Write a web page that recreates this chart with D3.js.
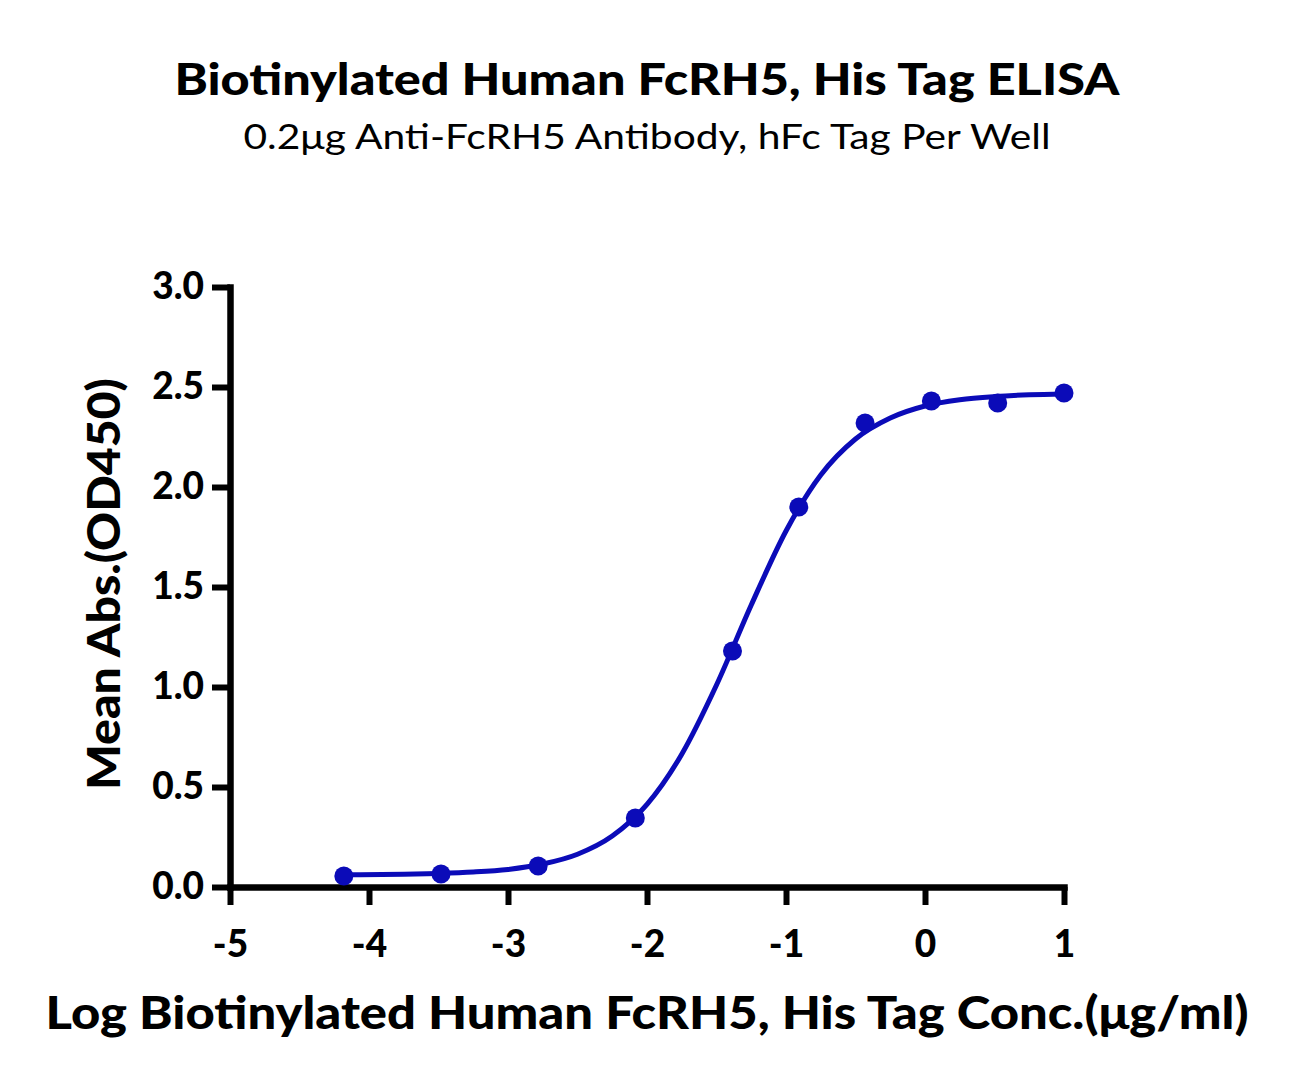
<!DOCTYPE html>
<html>
<head>
<meta charset="utf-8">
<script src="https://cdn.jsdelivr.net/npm/d3@7"></script>
<style>
  body { margin: 0; background: #fff; }
  text { font-family: "Lato", "Noto Sans", sans-serif; fill: #000; }
</style>
</head>
<body>
<div id="chart"></div>
<script>
// measured points: log concentration (µg/ml) and mean OD450
const logConc = [-4.181, -3.482, -2.783, -2.084, -1.385, -0.908, -0.431, 0.046, 0.523, 1.0];
const meanAbs = [0.055, 0.065, 0.105, 0.345, 1.18, 1.90, 2.32, 2.43, 2.42, 2.47];

// fitted curve
const curveX = [-4.181, -3.75, -3.5, -3.25, -3.0, -2.75, -2.5, -2.25, -2.0, -1.75, -1.5, -1.25,
  -1.0, -0.75, -0.5, -0.25, 0.0, 0.25, 0.5, 0.75, 1.0];
const curveY = [0.061, 0.064, 0.068, 0.075, 0.088, 0.115, 0.164, 0.255, 0.413, 0.664, 1.01, 1.41,
  1.78, 2.06, 2.24, 2.345, 2.405, 2.436, 2.452, 2.461, 2.465];

const xTicks = [-5, -4, -3, -2, -1, 0, 1];
const yTicks = [0, 0.5, 1.0, 1.5, 2.0, 2.5, 3.0];

const W = 1294, H = 1086;
const blue = "#0b0bb8";

const svg = d3.select("#chart")
  .append("svg")
    .attr("width", W)
    .attr("height", H);

const x = d3.scaleLinear().domain([-5, 1]).range([230, 1064]);
const y = d3.scaleLinear().domain([0, 3]).range([887, 287]);

// titles
svg.append("text")
  .attr("x", 647).attr("y", 95)
  .attr("text-anchor", "middle")
  .attr("font-size", 44).style("font-weight", 900)
  .attr("textLength", 945).attr("lengthAdjust", "spacingAndGlyphs")
  .text("Biotinylated Human FcRH5, His Tag ELISA");

svg.append("text")
  .attr("x", 647).attr("y", 149)
  .attr("text-anchor", "middle")
  .attr("font-size", 34)
  .attr("textLength", 807).attr("lengthAdjust", "spacingAndGlyphs")
  .text("0.2μg Anti-FcRH5 Antibody, hFc Tag Per Well");

// axes
const xAxis = svg.append("g")
  .attr("transform", "translate(0," + y(0) + ")")
  .call(d3.axisBottom(x).tickValues(xTicks).tickSize(18).tickSizeOuter(0).tickPadding(24)
    .tickFormat(d3.format("d")));

const yAxis = svg.append("g")
  .attr("transform", "translate(" + x(-5) + ",0)")
  .call(d3.axisLeft(y).tickValues(yTicks).tickSize(18).tickSizeOuter(0).tickPadding(8)
    .tickFormat(d3.format(".1f")));

[xAxis, yAxis].forEach(function(a) {
  a.select(".domain").style("stroke", "#000").style("stroke-width", "6.5px").style("stroke-linecap", "square");
  a.selectAll(".tick line").style("stroke", "#000").style("stroke-width", "6px");
  a.selectAll(".tick text")
    .style("font-family", "Lato, 'Noto Sans', sans-serif")
    .style("font-size", "37px").style("font-weight", 900).style("fill", "#000");
});
xAxis.selectAll(".tick text").attr("dy", "0.75em");
// hyphen-like minus as in reference
xAxis.selectAll(".tick text").text(function(d) { return d < 0 ? "-" + Math.abs(d) : d; });

// axis titles
svg.append("text")
  .attr("x", 647).attr("y", 1029)
  .attr("text-anchor", "middle")
  .attr("font-size", 45).style("font-weight", 900)
  .attr("textLength", 1203).attr("lengthAdjust", "spacingAndGlyphs")
  .text("Log Biotinylated Human FcRH5, His Tag Conc.(μg/ml)");

svg.append("text")
  .attr("transform", "translate(120,584) rotate(-90)")
  .attr("text-anchor", "middle")
  .attr("font-size", 45).style("font-weight", 900)
  .attr("textLength", 412).attr("lengthAdjust", "spacingAndGlyphs")
  .text("Mean Abs.(OD450)");

// fitted curve
const curveData = curveX.map(function(v, i) { return [v, curveY[i]]; });
svg.append("path")
  .datum(curveData)
  .attr("fill", "none")
  .attr("stroke", blue)
  .attr("stroke-width", 5)
  .attr("d", d3.line()
    .x(function(d) { return x(d[0]); })
    .y(function(d) { return y(d[1]); })
    .curve(d3.curveMonotoneX));

// points
svg.selectAll(".dot")
  .data(logConc.map(function(v, i) { return [v, meanAbs[i]]; }))
  .enter()
  .append("circle")
    .attr("class", "dot")
    .attr("cx", function(d) { return x(d[0]); })
    .attr("cy", function(d) { return y(d[1]); })
    .attr("r", 9.5)
    .attr("fill", blue);
</script>
</body>
</html>
